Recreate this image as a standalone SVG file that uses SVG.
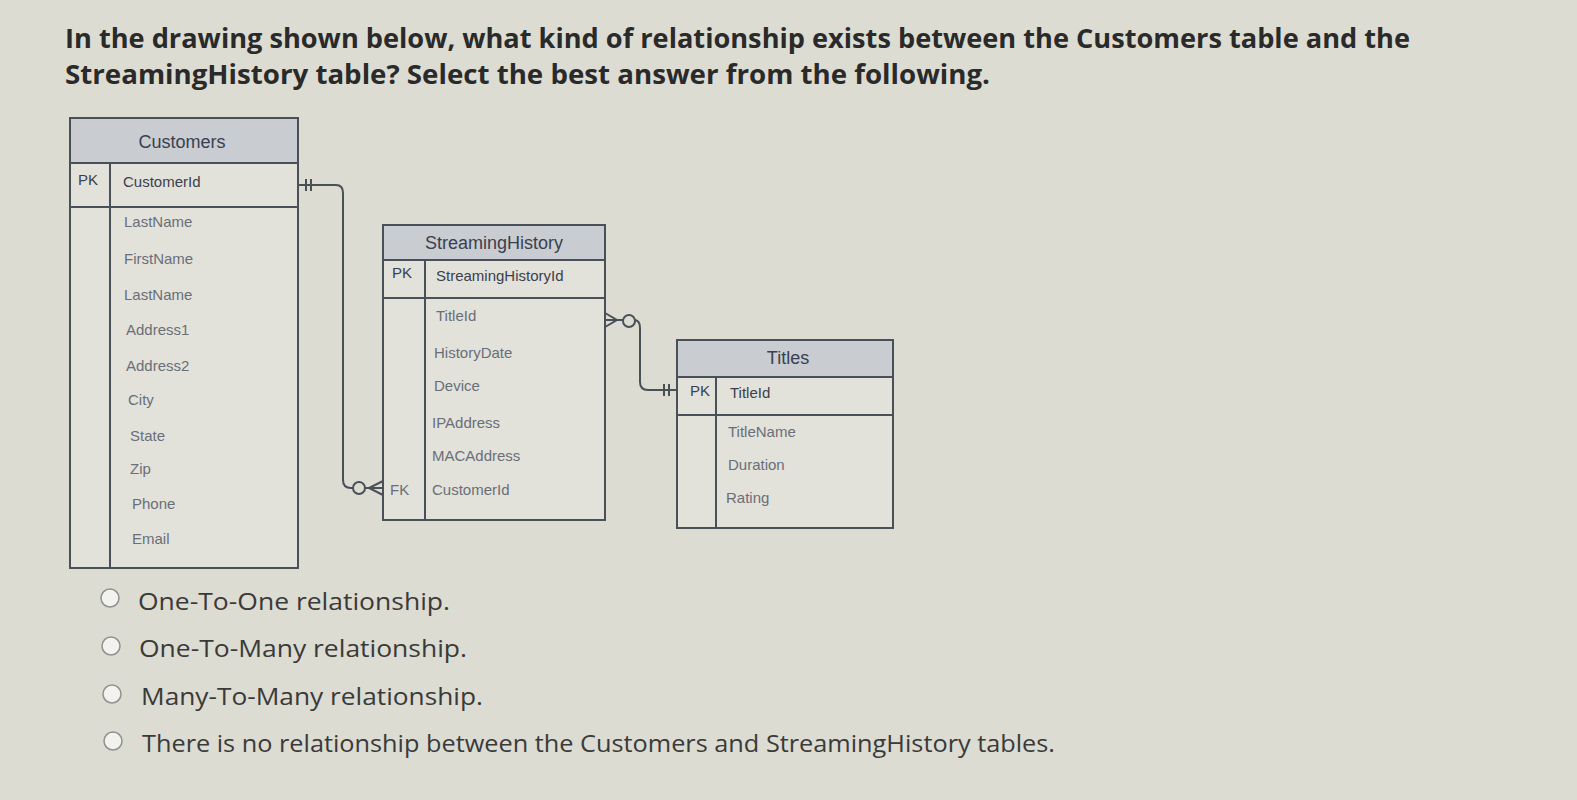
<svg xmlns="http://www.w3.org/2000/svg" width="1577" height="800" viewBox="0 0 1577 800">
<style>
.bg{fill:#dcdcd2}
.tbl{fill:#e2e2da;stroke:#4a5058;stroke-width:2}
.hdr{fill:#c9ccd0;stroke:#4a5058;stroke-width:2}
.ln{stroke:#4a5058;stroke-width:2;fill:none}
.f{font-family:"Liberation Sans",Arial,sans-serif;font-size:15px;fill:#6a6e78}
.h{font-family:"Liberation Sans",Arial,sans-serif;font-size:18px;fill:#3a4050}
.pk{font-family:"Liberation Sans",Arial,sans-serif;font-size:15px;fill:#3a4050}
.q{font-family:"Open Sans","DejaVu Sans",sans-serif;font-size:26px;font-weight:bold;fill:#2a2a2a}
.o{font-family:"Open Sans","DejaVu Sans",sans-serif;font-size:24px;fill:#3a3a3a}
.rb{fill:#f2f2ee;stroke:#909090;stroke-width:1.5}
</style>
<rect class="bg" width="1577" height="800"/>
<text class="q" x="65" y="48" textLength="1345" lengthAdjust="spacingAndGlyphs">In the drawing shown below, what kind of relationship exists between the Customers table and the</text>
<text class="q" x="65" y="84" textLength="925" lengthAdjust="spacingAndGlyphs">StreamingHistory table? Select the best answer from the following.</text>
<g id="customers">
<rect class="tbl" x="70" y="118" width="228" height="450"/>
<rect class="hdr" x="70" y="118" width="228" height="45"/>
<line class="ln" x1="70" y1="207" x2="298" y2="207"/>
<line class="ln" x1="110" y1="163" x2="110" y2="568"/>
<text class="h" x="182" y="148" text-anchor="middle">Customers</text>
<text class="pk" x="78" y="185">PK</text>
<text class="pk" x="123" y="187">CustomerId</text>
<text class="f" x="124" y="227">LastName</text>
<text class="f" x="124" y="264">FirstName</text>
<text class="f" x="124" y="300">LastName</text>
<text class="f" x="126" y="335">Address1</text>
<text class="f" x="126" y="371">Address2</text>
<text class="f" x="128" y="405">City</text>
<text class="f" x="130" y="441">State</text>
<text class="f" x="130" y="474">Zip</text>
<text class="f" x="132" y="509">Phone</text>
<text class="f" x="132" y="544">Email</text>
</g>
<g id="streaminghistory">
<rect class="tbl" x="383" y="225" width="222" height="295"/>
<rect class="hdr" x="383" y="225" width="222" height="35"/>
<line class="ln" x1="383" y1="298" x2="605" y2="298"/>
<line class="ln" x1="425" y1="260" x2="425" y2="520"/>
<text class="h" x="494" y="249" text-anchor="middle">StreamingHistory</text>
<text class="pk" x="392" y="278">PK</text>
<text class="pk" x="436" y="281">StreamingHistoryId</text>
<text class="f" x="436" y="321">TitleId</text>
<text class="f" x="434" y="358">HistoryDate</text>
<text class="f" x="434" y="391">Device</text>
<text class="f" x="432" y="428">IPAddress</text>
<text class="f" x="432" y="461">MACAddress</text>
<text class="f" x="432" y="495">CustomerId</text>
<text class="f" x="390" y="495">FK</text>
</g>
<g id="titles">
<rect class="tbl" x="677" y="340" width="216" height="188"/>
<rect class="hdr" x="677" y="340" width="216" height="37"/>
<line class="ln" x1="677" y1="415" x2="893" y2="415"/>
<line class="ln" x1="716" y1="377" x2="716" y2="528"/>
<text class="h" x="788" y="364" text-anchor="middle">Titles</text>
<text class="pk" x="690" y="396">PK</text>
<text class="pk" x="730" y="398">TitleId</text>
<text class="f" x="728" y="437">TitleName</text>
<text class="f" x="728" y="470">Duration</text>
<text class="f" x="726" y="503">Rating</text>
</g>
<g id="connectors">
<path class="ln" d="M298,185 H336 Q343,185 343,193 V480 Q343,488 351,488 H383"/>
<line class="ln" x1="306" y1="179" x2="306" y2="191"/>
<line class="ln" x1="311" y1="179" x2="311" y2="191"/>
<circle class="ln" cx="359" cy="488" r="6" style="fill:#dcdcd2"/>
<path class="ln" d="M383,481 L369,488 L383,495"/>
<path class="ln" d="M605,320 H634 Q640,320 640,328 V382 Q640,390 648,390 H677"/>
<path class="ln" d="M605,313 L617,320 L605,327"/>
<circle class="ln" cx="629" cy="321" r="6" style="fill:#dcdcd2"/>
<line class="ln" x1="664" y1="384" x2="664" y2="396"/>
<line class="ln" x1="669" y1="384" x2="669" y2="396"/>
</g>
<g id="options">
<circle class="rb" cx="110" cy="598" r="9"/>
<circle class="rb" cx="111" cy="646" r="9"/>
<circle class="rb" cx="112" cy="694" r="9"/>
<circle class="rb" cx="113" cy="741" r="9"/>
<text class="o" x="138" y="610" textLength="312" lengthAdjust="spacingAndGlyphs">One-To-One relationship.</text>
<text class="o" x="139" y="657" textLength="328" lengthAdjust="spacingAndGlyphs">One-To-Many relationship.</text>
<text class="o" x="141" y="705" textLength="342" lengthAdjust="spacingAndGlyphs">Many-To-Many relationship.</text>
<text class="o" x="142" y="752" textLength="913" lengthAdjust="spacingAndGlyphs">There is no relationship between the Customers and StreamingHistory tables.</text>
</g>
</svg>
